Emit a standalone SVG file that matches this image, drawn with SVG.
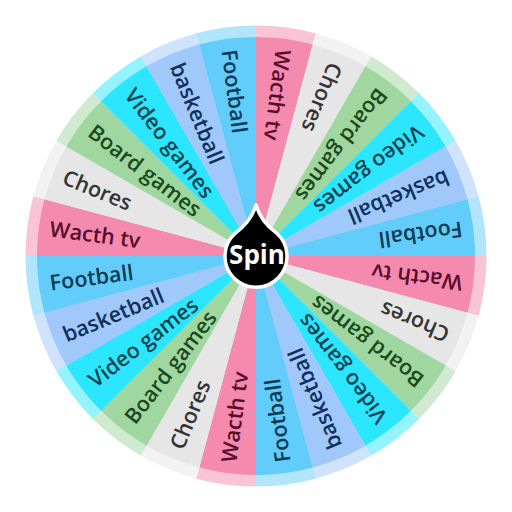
<svg xmlns="http://www.w3.org/2000/svg" xmlns:xlink="http://www.w3.org/1999/xlink" width="512" height="512" viewBox="0 0 512 512">
<style>
.t{font-family:"Open Sans","Liberation Sans","DejaVu Sans",sans-serif;font-weight:600;font-size:21.5px;}
.pk{fill:#F48AAD}.gy{fill:#E6E6E6}.gr{fill:#A0D6A0}.cy{fill:#2CE5FF}.pw{fill:#A0C8FA}.bl{fill:#62CCFA}
.rim{opacity:0.5}
.tpk{fill:#5A0A2C}.tgy{fill:#333333}.tgr{fill:#1A4A1C}.tcy{fill:#064550}.tpw{fill:#0E2F5C}.tbl{fill:#0B3A55}
</style>
<defs>
<path id="rimw" d="M256,256 L256,25.5 A230.5,230.5 0 0 1 315.66,33.35 Z"/>
<path id="wedge" d="M256,256 L256,37 A219,219 0 0 1 312.68,44.46 Z"/>
</defs>
<rect width="512" height="512" fill="#FFFFFF"/>
<g id="wheel">
<g id="seg01" transform="rotate(0 256 256)"><use href="#rimw" class="pk rim"/><use href="#wedge" class="pk"/><text x="48" y="256" dy="0.35em" transform="rotate(97.5 256 256)" class="t tpk">Wacth tv</text></g>
<g id="seg02" transform="rotate(15 256 256)"><use href="#rimw" class="gy rim"/><use href="#wedge" class="gy"/><text x="48" y="256" dy="0.35em" transform="rotate(97.5 256 256)" class="t tgy">Chores</text></g>
<g id="seg03" transform="rotate(30 256 256)"><use href="#rimw" class="gr rim"/><use href="#wedge" class="gr"/><text x="48" y="256" dy="0.35em" transform="rotate(97.5 256 256)" class="t tgr">Board games</text></g>
<g id="seg04" transform="rotate(45 256 256)"><use href="#rimw" class="cy rim"/><use href="#wedge" class="cy"/><text x="48" y="256" dy="0.35em" transform="rotate(97.5 256 256)" class="t tcy">Video games</text></g>
<g id="seg05" transform="rotate(60 256 256)"><use href="#rimw" class="pw rim"/><use href="#wedge" class="pw"/><text x="48" y="256" dy="0.35em" transform="rotate(97.5 256 256)" class="t tpw">basketball</text></g>
<g id="seg06" transform="rotate(75 256 256)"><use href="#rimw" class="bl rim"/><use href="#wedge" class="bl"/><text x="48" y="256" dy="0.35em" transform="rotate(97.5 256 256)" class="t tbl">Football</text></g>
<g id="seg07" transform="rotate(90 256 256)"><use href="#rimw" class="pk rim"/><use href="#wedge" class="pk"/><text x="48" y="256" dy="0.35em" transform="rotate(97.5 256 256)" class="t tpk">Wacth tv</text></g>
<g id="seg08" transform="rotate(105 256 256)"><use href="#rimw" class="gy rim"/><use href="#wedge" class="gy"/><text x="48" y="256" dy="0.35em" transform="rotate(97.5 256 256)" class="t tgy">Chores</text></g>
<g id="seg09" transform="rotate(120 256 256)"><use href="#rimw" class="gr rim"/><use href="#wedge" class="gr"/><text x="48" y="256" dy="0.35em" transform="rotate(97.5 256 256)" class="t tgr">Board games</text></g>
<g id="seg10" transform="rotate(135 256 256)"><use href="#rimw" class="cy rim"/><use href="#wedge" class="cy"/><text x="48" y="256" dy="0.35em" transform="rotate(97.5 256 256)" class="t tcy">Video games</text></g>
<g id="seg11" transform="rotate(150 256 256)"><use href="#rimw" class="pw rim"/><use href="#wedge" class="pw"/><text x="48" y="256" dy="0.35em" transform="rotate(97.5 256 256)" class="t tpw">basketball</text></g>
<g id="seg12" transform="rotate(165 256 256)"><use href="#rimw" class="bl rim"/><use href="#wedge" class="bl"/><text x="48" y="256" dy="0.35em" transform="rotate(97.5 256 256)" class="t tbl">Football</text></g>
<g id="seg13" transform="rotate(180 256 256)"><use href="#rimw" class="pk rim"/><use href="#wedge" class="pk"/><text x="48" y="256" dy="0.35em" transform="rotate(97.5 256 256)" class="t tpk">Wacth tv</text></g>
<g id="seg14" transform="rotate(195 256 256)"><use href="#rimw" class="gy rim"/><use href="#wedge" class="gy"/><text x="48" y="256" dy="0.35em" transform="rotate(97.5 256 256)" class="t tgy">Chores</text></g>
<g id="seg15" transform="rotate(210 256 256)"><use href="#rimw" class="gr rim"/><use href="#wedge" class="gr"/><text x="48" y="256" dy="0.35em" transform="rotate(97.5 256 256)" class="t tgr">Board games</text></g>
<g id="seg16" transform="rotate(225 256 256)"><use href="#rimw" class="cy rim"/><use href="#wedge" class="cy"/><text x="48" y="256" dy="0.35em" transform="rotate(97.5 256 256)" class="t tcy">Video games</text></g>
<g id="seg17" transform="rotate(240 256 256)"><use href="#rimw" class="pw rim"/><use href="#wedge" class="pw"/><text x="48" y="256" dy="0.35em" transform="rotate(97.5 256 256)" class="t tpw">basketball</text></g>
<g id="seg18" transform="rotate(255 256 256)"><use href="#rimw" class="bl rim"/><use href="#wedge" class="bl"/><text x="48" y="256" dy="0.35em" transform="rotate(97.5 256 256)" class="t tbl">Football</text></g>
<g id="seg19" transform="rotate(270 256 256)"><use href="#rimw" class="pk rim"/><use href="#wedge" class="pk"/><text x="48" y="256" dy="0.35em" transform="rotate(97.5 256 256)" class="t tpk">Wacth tv</text></g>
<g id="seg20" transform="rotate(285 256 256)"><use href="#rimw" class="gy rim"/><use href="#wedge" class="gy"/><text x="48" y="256" dy="0.35em" transform="rotate(97.5 256 256)" class="t tgy">Chores</text></g>
<g id="seg21" transform="rotate(300 256 256)"><use href="#rimw" class="gr rim"/><use href="#wedge" class="gr"/><text x="48" y="256" dy="0.35em" transform="rotate(97.5 256 256)" class="t tgr">Board games</text></g>
<g id="seg22" transform="rotate(315 256 256)"><use href="#rimw" class="cy rim"/><use href="#wedge" class="cy"/><text x="48" y="256" dy="0.35em" transform="rotate(97.5 256 256)" class="t tcy">Video games</text></g>
<g id="seg23" transform="rotate(330 256 256)"><use href="#rimw" class="pw rim"/><use href="#wedge" class="pw"/><text x="48" y="256" dy="0.35em" transform="rotate(97.5 256 256)" class="t tpw">basketball</text></g>
<g id="seg24" transform="rotate(345 256 256)"><use href="#rimw" class="bl rim"/><use href="#wedge" class="bl"/><text x="48" y="256" dy="0.35em" transform="rotate(97.5 256 256)" class="t tbl">Football</text></g>
</g>
<g id="spin">
<path d="M256,205 Q261,222 276.5,233 A31,31 0 1 1 235.5,233 Q251,222 256,205 Z" fill="#000000" stroke="#FFFFFF" stroke-width="3.5" stroke-linejoin="round"/>
<text x="257" y="264" text-anchor="middle" font-family="'Open Sans','Liberation Sans',sans-serif" font-weight="700" font-size="26" fill="#FFFFFF">Spin</text>
</g>
</svg>
